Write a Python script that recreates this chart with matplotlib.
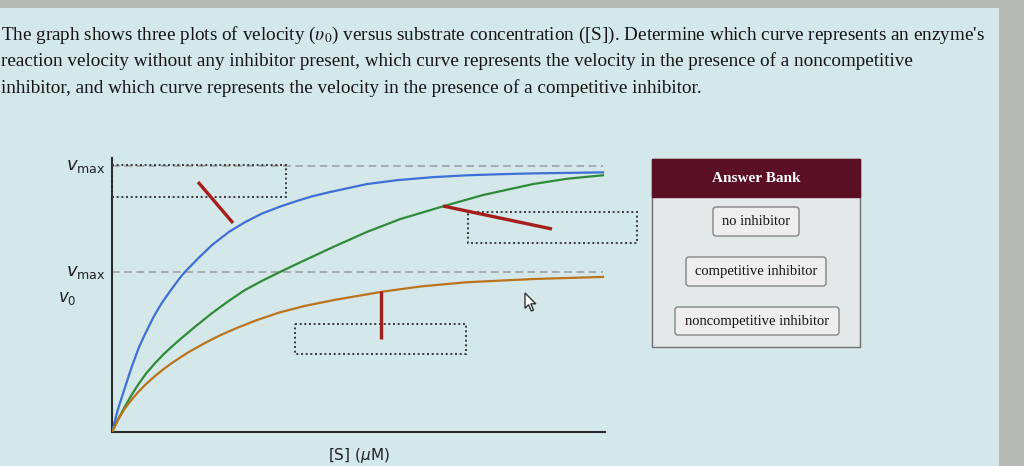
import matplotlib
matplotlib.use("Agg")
import matplotlib.pyplot as plt
from matplotlib.patches import Rectangle, FancyBboxPatch, Polygon

# Data ([S] in arbitrary units, v0 as fraction of Vmax)
s_none = [0, 0.12, 0.25, 0.40, 0.55, 0.67, 0.85, 1.01, 1.20, 1.36, 1.48, 1.76, 2.03, 2.37, 2.70,
          3.04, 3.39, 3.71, 4.06, 4.42, 5.17, 5.80, 6.51, 7.20, 7.87, 8.50, 9.23, 9.96]
v_none = [0, 0.085, 0.160, 0.245, 0.320, 0.368, 0.435, 0.485, 0.535, 0.575, 0.602, 0.655, 0.703, 0.752, 0.789,
          0.821, 0.846, 0.866, 0.886, 0.902, 0.932, 0.947, 0.958, 0.965, 0.969, 0.972, 0.974, 0.976]

s_comp = [0, 0.13, 0.26, 0.40, 0.53, 0.70, 0.87, 1.05, 1.22, 1.36, 1.70, 2.03, 2.37, 2.70, 3.04,
          3.39, 3.81, 4.48, 5.17, 5.84, 6.71, 7.53, 8.54, 9.23, 9.96]
v_comp = [0, 0.050, 0.095, 0.140, 0.178, 0.222, 0.258, 0.293, 0.322, 0.345, 0.398, 0.447, 0.493, 0.534, 0.568,
          0.600, 0.637, 0.695, 0.752, 0.800, 0.848, 0.891, 0.932, 0.952, 0.965]

s_noncomp = [0, 0.13, 0.26, 0.40, 0.53, 0.70, 0.87, 1.05, 1.22, 1.55, 1.89, 2.22, 2.56, 2.90, 3.39,
             3.91, 4.50, 5.50, 6.30, 7.20, 8.54, 9.96]
v_noncomp = [0, 0.048, 0.088, 0.122, 0.150, 0.182, 0.210, 0.237, 0.260, 0.300, 0.335, 0.366, 0.393, 0.418, 0.449,
             0.474, 0.496, 0.528, 0.548, 0.563, 0.575, 0.583]

vmax_levels = [1.0, 0.60]
answers = ["no inhibitor", "competitive inhibitor", "noncompetitive inhibitor"]

question = [
    "The graph shows three plots of velocity ($\\upsilon_0$) versus substrate concentration ([S]). Determine which curve represents an enzyme's",
    "reaction velocity without any inhibitor present, which curve represents the velocity in the presence of a noncompetitive",
    "inhibitor, and which curve represents the velocity in the presence of a competitive inhibitor.",
]

W, H = 1024, 466
fig = plt.figure(figsize=(W / 100, H / 100), dpi=100, facecolor="#b8bab7")

# background page (pixel coords)
bg = fig.add_axes([0, 0, 1, 1], zorder=0)
bg.set_xlim(0, W)
bg.set_ylim(H, 0)
bg.axis("off")
bg.add_patch(Rectangle((-5, 8), 1004, 470, facecolor="#d4e7e9", edgecolor="none"))

# question text
for i, line in enumerate(question):
    fig.text(1 / W, 1 - (35 + 26.5 * i) / H, line, family="Liberation Serif",
             fontsize=13.8, color="#141414", va="center", ha="left", math_fontfamily="stix")

# chart
ax = fig.add_axes([112 / W, 1 - 432 / H, (605 - 112) / W, (432 - 158) / H], zorder=1)
ax.set_facecolor("none")
ax.set_xlim(0, 10.0)
ax.set_ylim(0, 1.03)
for sp in ["top", "right"]:
    ax.spines[sp].set_visible(False)
for sp in ["left", "bottom"]:
    ax.spines[sp].set_color("#2a2a2a")
    ax.spines[sp].set_linewidth(1.5)
ax.set_xticks([])
ax.set_yticks([])

for v in vmax_levels:
    ax.hlines(v, 0, 9.96, colors="#9a9c9c", linestyles=(0, (5, 3)), lw=1.1, zorder=1)
    ax.text(-0.12, v, r"$v_{\mathrm{max}}$", ha="right", va="center", fontsize=13,
            color="#222222", math_fontfamily="dejavusans")

ax.plot(s_none, v_none, color="#3d6fd4", lw=1.6, zorder=3, solid_joinstyle="round")
ax.plot(s_comp, v_comp, color="#2f8a3a", lw=1.6, zorder=3, solid_joinstyle="round")
ax.plot(s_noncomp, v_noncomp, color="#bb741c", lw=1.6, zorder=3, solid_joinstyle="round")

ax.set_xlabel(r"[S] ($\mu$M)", fontsize=11, color="#222222", labelpad=10)
ax.set_ylabel(r"$v_0$", fontsize=12, color="#222222", rotation=0, ha="center", va="center")
ax.yaxis.set_label_coords(-0.091, 0.49)

# overlay: drop boxes, pointer lines, answer bank
ov = fig.add_axes([0, 0, 1, 1], zorder=2)
ov.set_xlim(0, W)
ov.set_ylim(H, 0)
ov.axis("off")
ov.patch.set_alpha(0)

drop_boxes = [(112, 165, 174, 32), (468, 212, 169, 31), (295, 324, 171, 30)]
for x, y, w, h in drop_boxes:
    ov.add_patch(Rectangle((x, y), w, h, fill=False, edgecolor="#3a3a3a", lw=1.4,
                           linestyle=(0, (1, 1.4))))

pointers = [((198, 233), (182, 223)), ((443, 552), (206, 229)), ((381, 381), (291, 339))]
for xs, ys in pointers:
    ov.plot(xs, ys, color="#a41f1c", lw=2.4, solid_capstyle="butt")

# answer bank panel
ov.add_patch(Rectangle((652, 159), 208, 188, facecolor="#e3e8e8", edgecolor="#6e6e6e", lw=1))
ov.add_patch(Rectangle((652, 159), 208, 38, facecolor="#5a0f24", edgecolor="#5a0f24", lw=1))
ov.text(756, 178, "Answer Bank", color="white", family="Liberation Serif", fontsize=11,
        fontweight="bold", ha="center", va="center")

btn_boxes = [(713, 207, 86, 29), (686, 257, 140, 29), (675, 307, 164, 28)]
for (x, y, w, h), label in zip(btn_boxes, answers):
    ov.add_patch(FancyBboxPatch((x, y), w, h, boxstyle="round,pad=0,rounding_size=3",
                                facecolor="#eeeeee", edgecolor="#858585", lw=1))
    ov.text(x + w / 2, y + h / 2, label, color="#111111", family="Liberation Serif",
            fontsize=10.5, ha="center", va="center")

# mouse cursor
cur = [(0, 0), (0, 17), (4, 13), (7, 20), (9.5, 19), (6.5, 12), (12, 12)]
ov.add_patch(Polygon([(525 + a * 0.9, 293 + b * 0.9) for a, b in cur], closed=True,
                     facecolor="white", edgecolor="#333333", lw=1))

fig.savefig("out.png", dpi=100)
